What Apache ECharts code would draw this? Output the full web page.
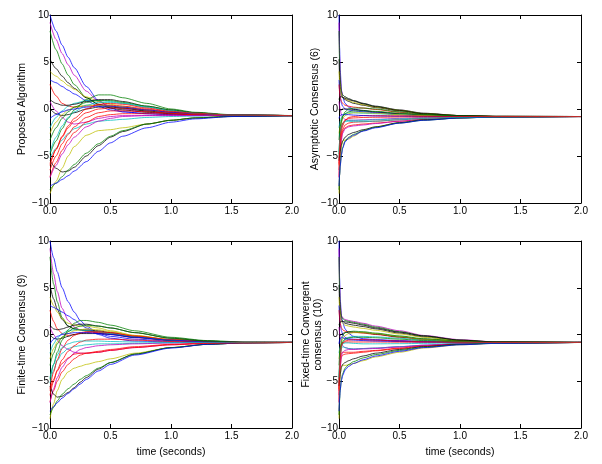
<!DOCTYPE html>
<html>
<head>
<meta charset="utf-8">
<script src="https://cdn.jsdelivr.net/npm/echarts@6/dist/echarts.min.js"></script>
<style>
  html, body { margin: 0; padding: 0; background: #fff; }
  #chart { width: 602px; height: 464px; }
</style>
</head>
<body>
<div id="chart"></div>
<script>
// sample times (seconds) for each panel
const timeSlow = [0, 0.05, 0.1, 0.15, 0.2, 0.3, 0.4, 0.5, 0.6, 0.8, 1.0, 1.2, 1.5, 2.0];
const timeFinite = [0, 0.03, 0.06, 0.1, 0.15, 0.2, 0.25, 0.3, 0.4, 0.5, 0.7, 1.0, 1.3, 1.6, 2.0];
const timeFast = [0, 0.005, 0.01, 0.02, 0.03, 0.05, 0.08, 0.12, 0.2, 0.3, 0.5, 0.7, 1.0, 1.3, 2.0];

// colour letter of each agent (same order in every panel)
const agentColours = ['b','m','g','k','y','b','r','m','k','c','y','g','c','r','r','r','m','y','k','g','b','k','b','g','c','r'];

// Proposed Algorithm
const proposed = [
  [10, 8.3, 6.8, 5.5, 4.4, 2.4, 0.9, 0.1, -0.3, -0.5, -0.6, -0.65, -0.7, -0.7],
  [9.2, 7.4, 5.9, 4.7, 3.6, 1.9, 0.8, 0.3, 0.0, -0.3, -0.5, -0.6, -0.7, -0.7],
  [8.3, 6.3, 4.8, 3.6, 2.6, 1.2, 0.5, 0.3, 0.1, -0.2, -0.4, -0.55, -0.7, -0.7],
  [5.3, 4.3, 3.5, 2.8, 2.2, 1.2, 0.5, 0.1, -0.1, -0.35, -0.5, -0.6, -0.7, -0.7],
  [4.0, 3.5, 3.0, 2.5, 2.1, 1.3, 0.8, 0.5, 0.3, -0.1, -0.35, -0.5, -0.65, -0.7],
  [3.1, 2.8, 2.4, 2.0, 1.6, 0.9, 0.3, -0.1, -0.3, -0.5, -0.6, -0.65, -0.7, -0.7],
  [2.6, 1.4, 0.6, 0.3, 0.2, 0.3, 0.4, 0.4, 0.3, 0.0, -0.3, -0.5, -0.65, -0.7],
  [0.8, -0.2, -0.9, -1.4, -1.6, -1.4, -1.0, -0.8, -0.7, -0.7, -0.7, -0.7, -0.7, -0.7],
  [0, -0.5, -0.7, -0.6, -0.4, 0.0, 0.2, 0.2, 0.1, -0.2, -0.45, -0.6, -0.7, -0.7],
  [-2, -0.9, -0.2, 0.3, 0.6, 0.9, 0.9, 0.8, 0.6, 0.2, -0.2, -0.45, -0.65, -0.7],
  [-2.6, -1.4, -0.6, -0.1, 0.2, 0.4, 0.4, 0.3, 0.2, -0.1, -0.4, -0.55, -0.7, -0.7],
  [-4.8, -3.4, -2.1, -1.0, -0.1, 1.0, 1.5, 1.5, 1.2, 0.6, 0.0, -0.35, -0.6, -0.7],
  [-5.2, -4.2, -3.3, -2.6, -2.1, -1.6, -1.3, -1.2, -1.1, -0.9, -0.8, -0.75, -0.7, -0.7],
  [-5.8, -4.3, -3.0, -2.0, -1.3, -0.4, 0.0, 0.1, 0.1, -0.1, -0.35, -0.5, -0.65, -0.7],
  [-6.5, -5.0, -3.7, -2.7, -1.9, -0.9, -0.4, -0.2, -0.2, -0.3, -0.45, -0.55, -0.65, -0.7],
  [-7.2, -5.7, -4.4, -3.3, -2.5, -1.4, -0.8, -0.6, -0.5, -0.5, -0.55, -0.6, -0.7, -0.7],
  [-7.3, -6.0, -4.8, -3.8, -3.0, -1.9, -1.3, -1.0, -0.8, -0.7, -0.7, -0.7, -0.7, -0.7],
  [-9, -7.7, -6.3, -5.0, -4.0, -2.8, -2.3, -2.2, -2.0, -1.6, -1.2, -0.95, -0.75, -0.7],
  [-5.5, -6.3, -6.7, -6.6, -6.2, -5.0, -3.9, -3.0, -2.4, -1.6, -1.2, -0.95, -0.8, -0.7],
  [-8.6, -7.9, -7.2, -6.5, -5.9, -4.7, -3.7, -2.9, -2.3, -1.6, -1.2, -0.95, -0.8, -0.7],
  [-8.2, -7.9, -7.5, -7.1, -6.6, -5.6, -4.5, -3.6, -2.9, -2.0, -1.4, -1.05, -0.8, -0.7],
  [1.0, 0.6, 0.4, 0.4, 0.5, 0.8, 1.0, 1.0, 0.8, 0.3, -0.1, -0.4, -0.65, -0.7],
  [-1.0, -0.6, -0.3, -0.1, 0.0, 0.2, 0.3, 0.3, 0.2, -0.1, -0.35, -0.5, -0.65, -0.7],
  [-3.3, -2.0, -1.0, -0.3, 0.2, 0.7, 0.9, 0.9, 0.7, 0.3, -0.1, -0.4, -0.65, -0.7],
  [-4.6, -3.0, -1.8, -0.9, -0.3, 0.4, 0.7, 0.7, 0.6, 0.2, -0.2, -0.45, -0.65, -0.7],
  [-6.0, -4.3, -2.9, -1.8, -1.0, 0.0, 0.5, 0.6, 0.5, 0.1, -0.25, -0.45, -0.65, -0.7]
];

// Asymptotic Consensus (6)
const asymptotic = [
  [10, 6.5, 4.2, 2.0, 1.3, 0.6, 0.2, 0.0, -0.2, -0.35, -0.55, -0.7, -0.78, -0.8, -0.8],
  [9.2, 5.5, 3.4, 1.9, 1.5, 1.3, 1.1, 0.9, 0.6, 0.3, -0.1, -0.45, -0.7, -0.78, -0.8],
  [8.3, 4.8, 3.0, 1.8, 1.5, 1.3, 1.1, 0.9, 0.6, 0.3, -0.1, -0.45, -0.7, -0.78, -0.8],
  [5.3, 3.5, 2.4, 1.5, 1.2, 1.0, 0.8, 0.6, 0.4, 0.15, -0.2, -0.5, -0.7, -0.78, -0.8],
  [4.0, 2.9, 2.1, 1.5, 1.3, 1.1, 0.9, 0.7, 0.45, 0.2, -0.15, -0.5, -0.7, -0.78, -0.8],
  [3.1, 2.0, 1.3, 0.6, 0.3, 0.0, -0.1, -0.2, -0.3, -0.4, -0.6, -0.7, -0.78, -0.8, -0.8],
  [2.6, 1.8, 1.2, 0.8, 0.6, 0.4, 0.3, 0.2, 0.1, -0.05, -0.35, -0.6, -0.75, -0.8, -0.8],
  [0.8, 0.3, -0.1, -0.6, -0.9, -1.1, -1.2, -1.2, -1.15, -1.1, -1.0, -0.9, -0.82, -0.8, -0.8],
  [0, -0.1, -0.1, -0.1, 0.0, 0.0, 0.0, -0.05, -0.15, -0.3, -0.5, -0.65, -0.75, -0.8, -0.8],
  [-2, -1.6, -1.3, -0.9, -0.7, -0.5, -0.4, -0.4, -0.45, -0.5, -0.6, -0.7, -0.78, -0.8, -0.8],
  [-2.6, -2.2, -1.8, -1.3, -1.0, -0.7, -0.5, -0.4, -0.4, -0.45, -0.6, -0.7, -0.78, -0.8, -0.8],
  [-4.8, -3.5, -2.5, -1.4, -0.8, -0.3, 0.0, 0.1, 0.1, 0.0, -0.3, -0.55, -0.72, -0.8, -0.8],
  [-5.2, -4.0, -3.0, -2.0, -1.6, -1.3, -1.2, -1.2, -1.2, -1.15, -1.05, -0.95, -0.85, -0.82, -0.8],
  [-5.8, -4.5, -3.5, -2.4, -1.8, -1.2, -0.9, -0.8, -0.7, -0.7, -0.72, -0.75, -0.78, -0.8, -0.8],
  [-6.5, -5.0, -4.0, -2.8, -2.2, -1.7, -1.5, -1.4, -1.35, -1.3, -1.15, -1.0, -0.88, -0.83, -0.8],
  [-7.2, -5.5, -4.3, -3.0, -2.4, -2.0, -1.8, -1.7, -1.6, -1.5, -1.3, -1.1, -0.92, -0.85, -0.8],
  [-7.3, -5.8, -4.6, -3.3, -2.6, -2.1, -1.9, -1.8, -1.7, -1.55, -1.3, -1.1, -0.92, -0.85, -0.8],
  [-9, -7.0, -5.5, -4.0, -3.4, -3.3, -3.2, -2.9, -2.3, -1.9, -1.45, -1.15, -0.95, -0.85, -0.8],
  [-5.5, -5.0, -4.5, -3.8, -3.4, -3.0, -2.7, -2.5, -2.2, -1.9, -1.45, -1.15, -0.95, -0.85, -0.8],
  [-8.6, -7.0, -6.0, -4.8, -4.1, -3.4, -3.0, -2.7, -2.3, -1.95, -1.5, -1.2, -0.95, -0.85, -0.8],
  [-8.2, -7.0, -6.1, -4.9, -4.2, -3.5, -3.1, -2.8, -2.35, -2.0, -1.5, -1.2, -0.95, -0.85, -0.8],
  [1.0, 1.2, 1.3, 1.3, 1.25, 1.15, 1.0, 0.85, 0.55, 0.25, -0.15, -0.5, -0.7, -0.78, -0.8],
  [-1.0, -0.8, -0.7, -0.6, -0.6, -0.6, -0.6, -0.65, -0.7, -0.75, -0.78, -0.8, -0.8, -0.8, -0.8],
  [-3.3, -2.5, -1.9, -1.2, -0.8, -0.5, -0.3, -0.2, -0.2, -0.25, -0.45, -0.6, -0.75, -0.8, -0.8],
  [-4.6, -3.5, -2.6, -1.8, -1.5, -1.3, -1.3, -1.35, -1.35, -1.3, -1.15, -1.0, -0.88, -0.83, -0.8],
  [-6.0, -4.2, -3.0, -1.9, -1.5, -1.2, -1.0, -0.95, -0.9, -0.88, -0.85, -0.82, -0.8, -0.8, -0.8]
];

// Finite-time Consensus (9)
const finiteTime = [
  [10, 8.2, 6.7, 5.0, 3.5, 2.4, 1.5, 0.9, 0.1, -0.2, -0.5, -0.7, -0.8, -0.85, -0.85],
  [9.2, 6.5, 4.6, 2.8, 1.5, 0.8, 0.5, 0.4, 0.2, 0.0, -0.35, -0.65, -0.8, -0.85, -0.85],
  [8.3, 5.4, 3.5, 1.8, 0.9, 0.6, 0.5, 0.4, 0.3, 0.1, -0.3, -0.6, -0.8, -0.85, -0.85],
  [5.3, 3.8, 2.7, 1.6, 0.9, 0.6, 0.5, 0.5, 0.4, 0.2, -0.2, -0.6, -0.75, -0.85, -0.85],
  [4.0, 3.1, 2.4, 1.7, 1.2, 1.0, 0.9, 0.9, 0.7, 0.4, -0.1, -0.55, -0.75, -0.85, -0.85],
  [3.1, 2.9, 2.7, 2.4, 2.0, 1.6, 1.1, 0.7, 0.0, -0.4, -0.7, -0.8, -0.85, -0.85, -0.85],
  [2.6, 1.4, 0.6, 0.1, -0.1, 0.0, 0.1, 0.2, 0.2, 0.1, -0.2, -0.55, -0.75, -0.85, -0.85],
  [0.8, 0.0, -0.6, -1.2, -1.6, -1.9, -2.0, -2.0, -1.9, -1.7, -1.4, -1.1, -0.95, -0.9, -0.85],
  [0, -0.4, -0.5, -0.4, -0.2, 0.0, 0.1, 0.1, 0.1, 0.0, -0.3, -0.6, -0.8, -0.85, -0.85],
  [-2, -1.0, -0.4, 0.1, 0.4, 0.5, 0.5, 0.4, 0.3, 0.1, -0.25, -0.6, -0.8, -0.85, -0.85],
  [-2.6, -1.5, -0.8, -0.3, 0.1, 0.4, 0.5, 0.6, 0.5, 0.3, -0.1, -0.55, -0.75, -0.85, -0.85],
  [-4.8, -3.2, -1.9, -0.6, 0.5, 1.2, 1.5, 1.5, 1.3, 1.0, 0.4, -0.3, -0.65, -0.8, -0.85],
  [-5.2, -3.8, -2.8, -2.0, -1.5, -1.3, -1.2, -1.1, -1.0, -1.0, -0.95, -0.9, -0.85, -0.85, -0.85],
  [-5.8, -4.0, -2.7, -1.5, -0.6, -0.1, 0.2, 0.3, 0.3, 0.2, -0.15, -0.55, -0.75, -0.85, -0.85],
  [-6.5, -5.0, -3.8, -2.7, -1.8, -1.2, -0.8, -0.6, -0.5, -0.5, -0.6, -0.75, -0.8, -0.85, -0.85],
  [-7.2, -6.0, -5.0, -4.0, -3.2, -2.6, -2.2, -2.0, -1.8, -1.6, -1.3, -1.05, -0.9, -0.85, -0.85],
  [-7.3, -5.8, -4.6, -3.5, -2.6, -2.0, -1.6, -1.4, -1.2, -1.1, -1.0, -0.9, -0.85, -0.85, -0.85],
  [-9, -7.4, -6.0, -4.8, -4.0, -3.6, -3.4, -3.2, -2.9, -2.6, -2.0, -1.4, -1.05, -0.9, -0.85],
  [-5.5, -6.4, -6.7, -6.6, -6.2, -5.7, -5.1, -4.6, -3.7, -3.0, -2.1, -1.4, -1.05, -0.9, -0.85],
  [-8.6, -7.8, -7.1, -6.4, -5.8, -5.3, -4.8, -4.4, -3.6, -3.0, -2.1, -1.4, -1.05, -0.9, -0.85],
  [-8.2, -7.7, -7.3, -6.8, -6.3, -5.8, -5.3, -4.8, -3.9, -3.2, -2.2, -1.45, -1.05, -0.9, -0.85],
  [1.0, 0.6, 0.5, 0.6, 0.8, 1.0, 1.1, 1.1, 0.9, 0.7, 0.2, -0.4, -0.7, -0.85, -0.85],
  [-1.0, -0.5, -0.2, 0.0, 0.1, 0.2, 0.2, 0.2, 0.1, 0.0, -0.3, -0.6, -0.8, -0.85, -0.85],
  [-3.3, -2.0, -1.0, -0.3, 0.3, 0.7, 0.9, 1.0, 0.9, 0.7, 0.2, -0.4, -0.7, -0.85, -0.85],
  [-4.6, -3.2, -2.2, -1.4, -1.0, -0.8, -0.7, -0.7, -0.7, -0.75, -0.8, -0.85, -0.85, -0.85, -0.85],
  [-6.0, -4.8, -3.9, -3.1, -2.5, -2.1, -2.0, -2.0, -1.9, -1.7, -1.4, -1.1, -0.95, -0.9, -0.85]
];

// Fixed-time Convergent consensus (10)
const fixedTime = [
  [10, 6.0, 3.8, 2.0, 1.3, 0.6, 0.1, -0.2, -0.45, -0.55, -0.65, -0.75, -0.82, -0.85, -0.85],
  [9.2, 5.2, 3.2, 2.0, 1.8, 1.6, 1.5, 1.4, 1.2, 0.9, 0.4, -0.1, -0.55, -0.8, -0.85],
  [8.3, 4.6, 2.9, 1.9, 1.7, 1.5, 1.4, 1.3, 1.1, 0.8, 0.3, -0.15, -0.6, -0.8, -0.85],
  [5.3, 3.5, 2.4, 1.6, 1.4, 1.2, 1.1, 1.0, 0.85, 0.6, 0.15, -0.25, -0.65, -0.82, -0.85],
  [4.0, 2.9, 2.1, 1.4, 1.2, 1.0, 0.9, 0.8, 0.65, 0.45, 0.05, -0.3, -0.67, -0.82, -0.85],
  [3.1, 2.0, 1.2, 0.4, 0.0, -0.3, -0.45, -0.5, -0.55, -0.6, -0.7, -0.78, -0.83, -0.85, -0.85],
  [2.6, 1.8, 1.2, 0.7, 0.5, 0.35, 0.3, 0.25, 0.15, 0.0, -0.3, -0.55, -0.75, -0.83, -0.85],
  [0.8, 0.2, -0.3, -0.9, -1.2, -1.4, -1.5, -1.55, -1.5, -1.45, -1.3, -1.15, -0.98, -0.9, -0.85],
  [0, -0.1, -0.1, 0.0, 0.1, 0.2, 0.25, 0.25, 0.2, 0.05, -0.25, -0.5, -0.72, -0.82, -0.85],
  [-2, -1.6, -1.3, -1.0, -0.8, -0.5, -0.3, -0.2, -0.2, -0.25, -0.4, -0.6, -0.78, -0.84, -0.85],
  [-2.6, -2.0, -1.5, -0.9, -0.5, -0.1, 0.1, 0.2, 0.2, 0.1, -0.2, -0.5, -0.72, -0.83, -0.85],
  [-4.8, -3.0, -1.8, -0.6, -0.1, 0.2, 0.3, 0.35, 0.3, 0.15, -0.15, -0.45, -0.7, -0.82, -0.85],
  [-5.2, -3.5, -2.4, -1.5, -1.3, -1.4, -1.5, -1.55, -1.5, -1.45, -1.3, -1.15, -0.98, -0.9, -0.85],
  [-5.8, -3.5, -2.2, -1.2, -0.9, -0.8, -0.8, -0.8, -0.8, -0.8, -0.82, -0.84, -0.85, -0.85, -0.85],
  [-6.5, -4.0, -2.8, -2.0, -1.9, -1.9, -1.9, -1.9, -1.8, -1.7, -1.45, -1.2, -1.0, -0.9, -0.85],
  [-7.2, -4.5, -3.3, -2.4, -2.2, -2.1, -2.05, -2.0, -1.9, -1.75, -1.5, -1.25, -1.02, -0.9, -0.85],
  [-7.3, -5.0, -3.6, -2.3, -1.9, -1.7, -1.6, -1.6, -1.55, -1.5, -1.35, -1.15, -0.98, -0.9, -0.85],
  [-9, -6.0, -4.3, -3.4, -3.3, -3.3, -3.25, -3.1, -2.8, -2.4, -1.9, -1.45, -1.1, -0.95, -0.85],
  [-5.5, -4.8, -4.2, -3.5, -3.2, -3.0, -2.8, -2.6, -2.3, -2.0, -1.6, -1.3, -1.05, -0.92, -0.85],
  [-8.6, -7.0, -6.0, -4.8, -4.2, -3.6, -3.2, -2.9, -2.5, -2.15, -1.7, -1.35, -1.07, -0.93, -0.85],
  [-8.2, -6.8, -5.9, -4.9, -4.4, -3.8, -3.4, -3.1, -2.7, -2.3, -1.8, -1.4, -1.1, -0.95, -0.85],
  [1.0, 1.2, 1.35, 1.4, 1.4, 1.35, 1.3, 1.2, 1.0, 0.7, 0.25, -0.15, -0.6, -0.8, -0.85],
  [-1.0, -0.6, -0.4, -0.3, -0.35, -0.45, -0.55, -0.6, -0.65, -0.7, -0.75, -0.8, -0.84, -0.85, -0.85],
  [-3.3, -2.3, -1.7, -1.1, -0.8, -0.5, -0.35, -0.3, -0.3, -0.35, -0.5, -0.65, -0.8, -0.84, -0.85],
  [-4.6, -3.2, -2.2, -1.3, -1.0, -0.9, -0.9, -0.95, -1.0, -1.0, -0.98, -0.95, -0.9, -0.87, -0.85],
  [-6.0, -3.8, -2.5, -1.2, -0.9, -0.7, -0.6, -0.55, -0.55, -0.6, -0.7, -0.78, -0.83, -0.85, -0.85]
];

const xTicks = [0, 0.5, 1.0, 1.5, 2.0];
const yTicks = [-10, -5, 0, 5, 10];

// matplotlib classic colour letters
const mpl = { b: '#0000ff', g: '#008000', r: '#ff0000', c: '#00bfbf', m: '#bf00bf', y: '#bfbf00', k: '#000000' };

const panels = [
  { name: 'Proposed Algorithm', time: timeSlow, lines: proposed, left: 50, top: 15, height: 188, gap: 22, xName: '' },
  { name: 'Asymptotic Consensus (6)', time: timeFast, lines: asymptotic, left: 339, top: 15, height: 188, gap: 18, xName: '' },
  { name: 'Finite-time Consensus (9)', time: timeFinite, lines: finiteTime, left: 50, top: 241, height: 187, gap: 22, xName: 'time (seconds)' },
  { name: 'Fixed-time Convergent\nconsensus (10)', time: timeFast, lines: fixedTime, left: 339, top: 241, height: 187, gap: 15, xName: 'time (seconds)' }
];

const font = 'Liberation Sans';
const minus = v => String(v).replace('-', '\u2212');

var grid = [], xAxis = [], yAxis = [], series = [];
panels.forEach(function (p, i) {
  grid.push({ left: p.left, top: p.top, width: 242, height: p.height, show: false });
  var base = { type: 'value', gridIndex: i, min: 0, max: 2, interval: 0.5,
    axisLine: { show: true, onZero: false, lineStyle: { color: '#000', width: 1 } },
    axisTick: { show: true, inside: true, length: 4, lineStyle: { color: '#000' } },
    splitLine: { show: false } };
  xAxis.push(Object.assign({}, base, {
    position: 'bottom',
    name: p.xName, nameLocation: 'middle', nameGap: 19, nameMoveOverlap: false,
    nameTextStyle: { fontFamily: font, fontSize: 10.5, color: '#000' },
    axisLabel: { fontFamily: font, fontSize: 10, color: '#000', margin: 3,
      formatter: v => xTicks.indexOf(v) >= 0 ? v.toFixed(1) : '' }
  }));
  xAxis.push(Object.assign({}, base, { position: 'top', axisLabel: { show: false } }));
  var ybase = { type: 'value', gridIndex: i, min: -10, max: 10, interval: 5,
    axisLine: { show: true, onZero: false, lineStyle: { color: '#000', width: 1 } },
    axisTick: { show: true, inside: true, length: 4, lineStyle: { color: '#000' } },
    splitLine: { show: false } };
  yAxis.push(Object.assign({}, ybase, {
    position: 'left',
    name: p.name, nameLocation: 'middle', nameGap: p.gap, nameRotate: 90, nameMoveOverlap: false,
    nameTextStyle: { fontFamily: font, fontSize: 10.5, color: '#000', lineHeight: 12 },
    axisLabel: { fontFamily: font, fontSize: 10, color: '#000', margin: 1,
      formatter: v => yTicks.indexOf(v) >= 0 ? minus(v) : '' }
  }));
  yAxis.push(Object.assign({}, ybase, { position: 'right', axisLabel: { show: false } }));
  p.lines.forEach(function (vals, j) {
    series.push({
      type: 'line',
      xAxisIndex: i * 2,
      yAxisIndex: i * 2,
      data: vals.map((v, k) => [p.time[k], v]),
      showSymbol: false,
      smooth: 0.25,
      smoothMonotone: 'x',
      silent: true,
      animation: false,
      lineStyle: { width: 0.9, color: mpl[agentColours[j]], opacity: 0.85 }
    });
  });
});

var chart = echarts.init(document.getElementById('chart'), null, { renderer: 'canvas' });
chart.setOption({
  backgroundColor: '#fff',
  animation: false,
  grid: grid,
  xAxis: xAxis,
  yAxis: yAxis,
  series: series
});
</script>
</body>
</html>
